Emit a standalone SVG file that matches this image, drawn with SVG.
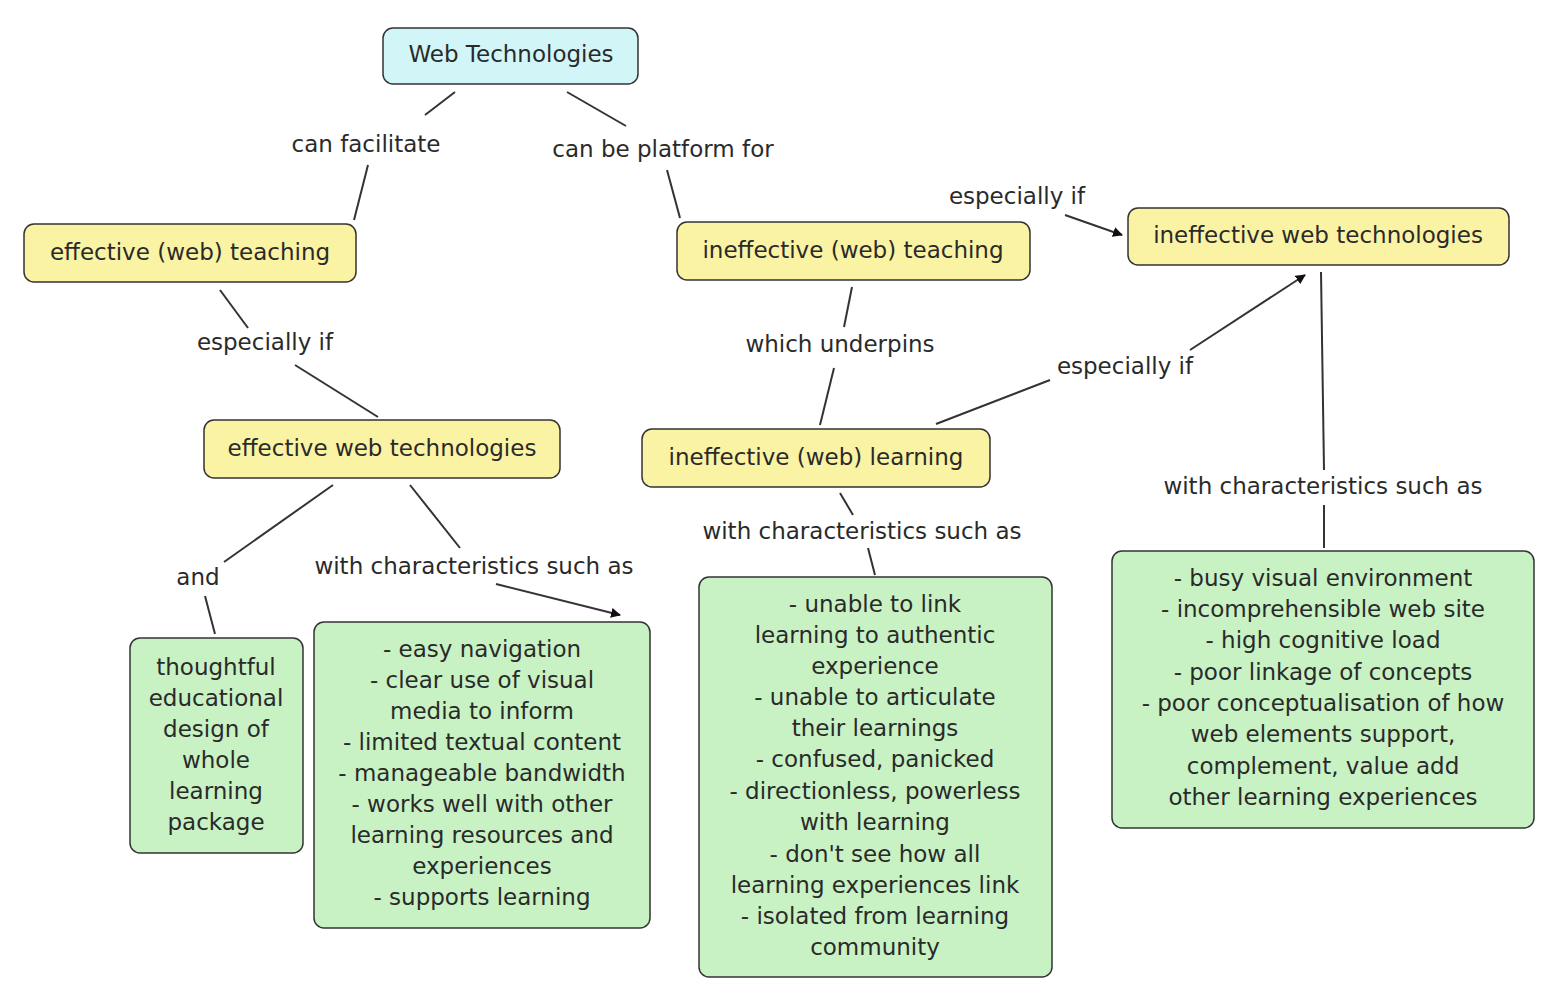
<svg xmlns="http://www.w3.org/2000/svg" width="1549" height="989" viewBox="0 0 1549 989">
<defs>
<style>
text{font-family:"DejaVu Sans",Verdana,sans-serif;font-size:23px;fill:#2a2a2a;text-anchor:middle}
.n rect{stroke:#333;stroke-width:1.5}
.c{fill:#d2f6f8}.y{fill:#fbf3a4}.g{fill:#c8f2c4}
.cn line{stroke:#333;stroke-width:2}
</style>
<marker id="ar" viewBox="0 0 10 10" refX="9" refY="5" markerWidth="10" markerHeight="10" markerUnits="userSpaceOnUse" orient="auto"><path d="M0,0L10,5L0,10z" fill="#111"/></marker>
</defs>
<rect width="1549" height="989" fill="#fff"/>
<g class="cn">
<line x1="455" y1="92" x2="425" y2="115"/><line x1="368" y1="165" x2="354" y2="220"/>
<line x1="567" y1="92" x2="626" y2="126"/><line x1="667" y1="170" x2="680" y2="218"/>
<line x1="220" y1="290" x2="248" y2="328"/><line x1="295" y1="365" x2="378" y2="417"/>
<line x1="852" y1="287" x2="844" y2="327"/><line x1="834" y1="368" x2="820" y2="425"/>
<line x1="936" y1="424" x2="1050" y2="380"/><line x1="1190" y1="350" x2="1305" y2="275" marker-end="url(#ar)" style="marker-end:url(#ar)"/>
<line x1="1065" y1="215" x2="1122" y2="235" marker-end="url(#ar)"/>
<line x1="1321" y1="272" x2="1324" y2="470"/><line x1="1324" y1="505" x2="1324" y2="548"/>
<line x1="840" y1="493" x2="853" y2="515"/><line x1="868" y1="548" x2="875" y2="575"/>
<line x1="333" y1="485" x2="224" y2="562"/><line x1="205" y1="596" x2="215" y2="634"/>
<line x1="410" y1="485" x2="460" y2="548"/><line x1="496" y1="584" x2="620" y2="615" marker-end="url(#ar)"/>
<text x="366" y="152">can facilitate</text>
<text x="663" y="157">can be platform for</text>
<text x="265" y="350">especially if</text>
<text x="840" y="352">which underpins</text>
<text x="1125" y="374">especially if</text>
<text x="1017" y="204">especially if</text>
<text x="1323" y="494">with characteristics such as</text>
<text x="862" y="539">with characteristics such as</text>
<text x="198" y="585">and</text>
<text x="474" y="574">with characteristics such as</text>
</g>
<g id="web" class="n"><rect class="c" x="383" y="28" width="255" height="56" rx="10"/><text x="511" y="62">Web Technologies</text></g>
<g id="eteach" class="n"><rect class="y" x="24" y="224" width="332" height="58" rx="10"/><text x="190" y="260">effective (web) teaching</text></g>
<g id="iteach" class="n"><rect class="y" x="677" y="222" width="353" height="58" rx="10"/><text x="853" y="258">ineffective (web) teaching</text></g>
<g id="iwt" class="n"><rect class="y" x="1128" y="208" width="381" height="57" rx="10"/><text x="1318" y="243">ineffective web technologies</text></g>
<g id="ewt" class="n"><rect class="y" x="204" y="420" width="356" height="58" rx="10"/><text x="382" y="456">effective web technologies</text></g>
<g id="ilearn" class="n"><rect class="y" x="642" y="429" width="348" height="58" rx="10"/><text x="816" y="465">ineffective (web) learning</text></g>
<g id="thought" class="n"><rect class="g" x="130" y="638" width="173" height="215" rx="10"/>
<text x="216" y="675">thoughtful</text><text x="216" y="706">educational</text><text x="216" y="737">design of</text><text x="216" y="768">whole</text><text x="216" y="799">learning</text><text x="216" y="830">package</text></g>
<g id="easy" class="n"><rect class="g" x="314" y="622" width="336" height="306" rx="10"/>
<text x="482" y="657">- easy navigation</text><text x="482" y="688">- clear use of visual</text><text x="482" y="719">media to inform</text><text x="482" y="750">- limited textual content</text><text x="482" y="781">- manageable bandwidth</text><text x="482" y="812">- works well with other</text><text x="482" y="843">learning resources and</text><text x="482" y="874">experiences</text><text x="482" y="905">- supports learning</text></g>
<g id="unable" class="n"><rect class="g" x="699" y="577" width="353" height="400" rx="10"/>
<text x="875" y="612">- unable to link</text><text x="875" y="643">learning to authentic</text><text x="875" y="674">experience</text><text x="875" y="705">- unable to articulate</text><text x="875" y="736">their learnings</text><text x="875" y="767">- confused, panicked</text><text x="875" y="799">- directionless, powerless</text><text x="875" y="830">with learning</text><text x="875" y="862">- don't see how all</text><text x="875" y="893">learning experiences link</text><text x="875" y="924">- isolated from learning</text><text x="875" y="955">community</text></g>
<g id="busy" class="n"><rect class="g" x="1112" y="551" width="422" height="277" rx="10"/>
<text x="1323" y="586">- busy visual environment</text><text x="1323" y="617">- incomprehensible web site</text><text x="1323" y="648">- high cognitive load</text><text x="1323" y="680">- poor linkage of concepts</text><text x="1323" y="711">- poor conceptualisation of how</text><text x="1323" y="742">web elements support,</text><text x="1323" y="774">complement, value add</text><text x="1323" y="805">other learning experiences</text></g>
</svg>
